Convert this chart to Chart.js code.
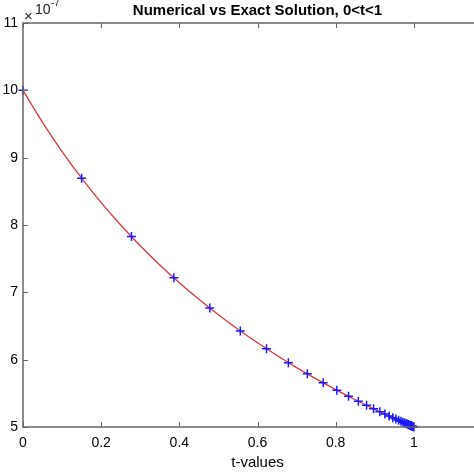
<!DOCTYPE html>
<html>
<head>
<meta charset="utf-8">
<script src="https://cdn.jsdelivr.net/npm/chart.js@4.4.0/dist/chart.umd.min.js"></script>
<style>
  html, body { margin: 0; padding: 0; background: #fff; overflow: hidden; }
  #wrap { width: 500px; height: 474px; }
</style>
</head>
<body>
<div id="wrap"><canvas id="chart" width="500" height="474"></canvas></div>
<script>
// values in units of 1e-7
const numT = [0, 0.15, 0.2775, 0.386, 0.478, 0.556, 0.623, 0.679, 0.7275, 0.768, 0.803, 0.833,
  0.858, 0.879, 0.897, 0.913, 0.926, 0.937, 0.946, 0.954, 0.961, 0.967, 0.972, 0.976, 0.980,
  0.983, 0.9855, 0.988, 0.990, 0.9915, 0.993, 0.994, 0.995, 0.996, 0.997, 1.0];
const numY = [10.000, 8.696, 7.828, 7.215, 6.766, 6.427, 6.161, 5.956, 5.789, 5.656, 5.546, 5.456,
  5.382, 5.322, 5.271, 5.227, 5.192, 5.163, 5.139, 5.118, 5.099, 5.084, 5.071, 5.061, 5.051,
  5.043, 5.036, 5.030, 5.025, 5.021, 5.018, 5.015, 5.013, 5.010, 5.008, 5.000];
const exactT = [0, 0.05, 0.1, 0.15, 0.2, 0.25, 0.3, 0.35, 0.4, 0.45, 0.5, 0.55, 0.6, 0.65,
  0.7, 0.75, 0.8, 0.85, 0.9, 0.95, 1.0];
const exactY = [10.000, 9.524, 9.091, 8.696, 8.333, 8.000, 7.692, 7.407, 7.143, 6.897, 6.667,
  6.452, 6.250, 6.061, 5.882, 5.714, 5.556, 5.405, 5.263, 5.128, 5.000];
const xTicks = [0, 0.2, 0.4, 0.6, 0.8, 1, 1.2];
const yTicks = [5, 6, 7, 8, 9, 10, 11];
const titleText = 'Numerical vs Exact Solution, 0<t<1';
const xLabel = 't-values';

const FONT = '"Liberation Sans", Arial, Helvetica, sans-serif';
const AXIS = '#666666';

const matlabAxes = {
  id: 'matlabAxes',
  afterDraw(chart) {
    const { ctx, chartArea: a, scales } = chart;
    ctx.save();
    ctx.strokeStyle = AXIS;
    ctx.lineWidth = 1.5;
    ctx.strokeRect(a.left, a.top, a.right - a.left, a.bottom - a.top);
    ctx.lineWidth = 1;
    const tl = 5;
    ctx.beginPath();
    xTicks.forEach(v => {
      const px = Math.round(scales.x.getPixelForValue(v)) + 0.5;
      ctx.moveTo(px, a.bottom); ctx.lineTo(px, a.bottom - tl);
      ctx.moveTo(px, a.top); ctx.lineTo(px, a.top + tl);
    });
    yTicks.forEach(v => {
      const py = Math.round(scales.y.getPixelForValue(v)) + 0.5;
      ctx.moveTo(a.left, py); ctx.lineTo(a.left + tl, py);
      ctx.moveTo(a.right, py); ctx.lineTo(a.right - tl, py);
    });
    ctx.stroke();

    ctx.fillStyle = '#000';
    ctx.textAlign = 'center';
    ctx.textBaseline = 'middle';
    const cx = (a.left + a.right) / 2;
    ctx.font = 'bold 15px ' + FONT;
    ctx.fillText(titleText, cx, 11);
    ctx.font = '15px ' + FONT;
    ctx.fillText(xLabel, cx, 463);

    // exponent label
    ctx.textAlign = 'left';
    ctx.fillStyle = '#222';
    ctx.font = '15px ' + FONT;
    ctx.fillText('\u00d7', a.left + 1, 16.5);
    ctx.font = '14px ' + FONT;
    ctx.fillText('10', a.left + 12, 10);
    ctx.font = '10px ' + FONT;
    ctx.fillText('-7', a.left + 28, 3);
    ctx.restore();
  }
};

new Chart(document.getElementById('chart'), {
  type: 'scatter',
  data: {
    datasets: [
      {
        label: 'Numerical',
        data: numT.map((t, i) => ({ x: t, y: numY[i] })),
        showLine: false,
        clip: false,
        pointStyle: 'cross',
        pointRadius: 4.5,
        pointBorderWidth: 1.5,
        borderColor: '#1a1aff',
        backgroundColor: '#1a1aff'
      },
      {
        label: 'Exact',
        data: exactT.map((t, i) => ({ x: t, y: exactY[i] })),
        showLine: true,
        clip: false,
        pointRadius: 0,
        borderColor: '#d9373c',
        borderWidth: 1.3,
        cubicInterpolationMode: 'monotone'
      }
    ]
  },
  options: {
    responsive: false,
    animation: false,
    layout: { padding: { top: 23, right: 8, left: 0, bottom: 0 } },
    plugins: { legend: { display: false }, tooltip: { enabled: false }, title: { display: false } },
    scales: {
      x: {
        type: 'linear',
        min: 0,
        max: 1.2,
        afterBuildTicks: s => { s.ticks = xTicks.map(v => ({ value: v })); },
        afterFit: s => { s.height = 47; s.paddingLeft = 0; s.paddingRight = 0; },
        grid: { display: false, drawTicks: false },
        border: { display: false },
        ticks: {
          padding: 8,
          color: '#000',
          maxRotation: 0,
          font: { family: FONT, size: 14 },
          callback: v => String(v)
        }
      },
      y: {
        type: 'linear',
        min: 5,
        max: 11,
        afterBuildTicks: s => { s.ticks = yTicks.map(v => ({ value: v })); },
        afterFit: s => { s.width = 23; s.paddingTop = 0; s.paddingBottom = 0; },
        grid: { display: false, drawTicks: false },
        border: { display: false },
        ticks: {
          padding: 5,
          color: '#000',
          font: { family: FONT, size: 14 },
          callback: v => String(v)
        }
      }
    }
  },
  plugins: [matlabAxes]
});
</script>
</body>
</html>
